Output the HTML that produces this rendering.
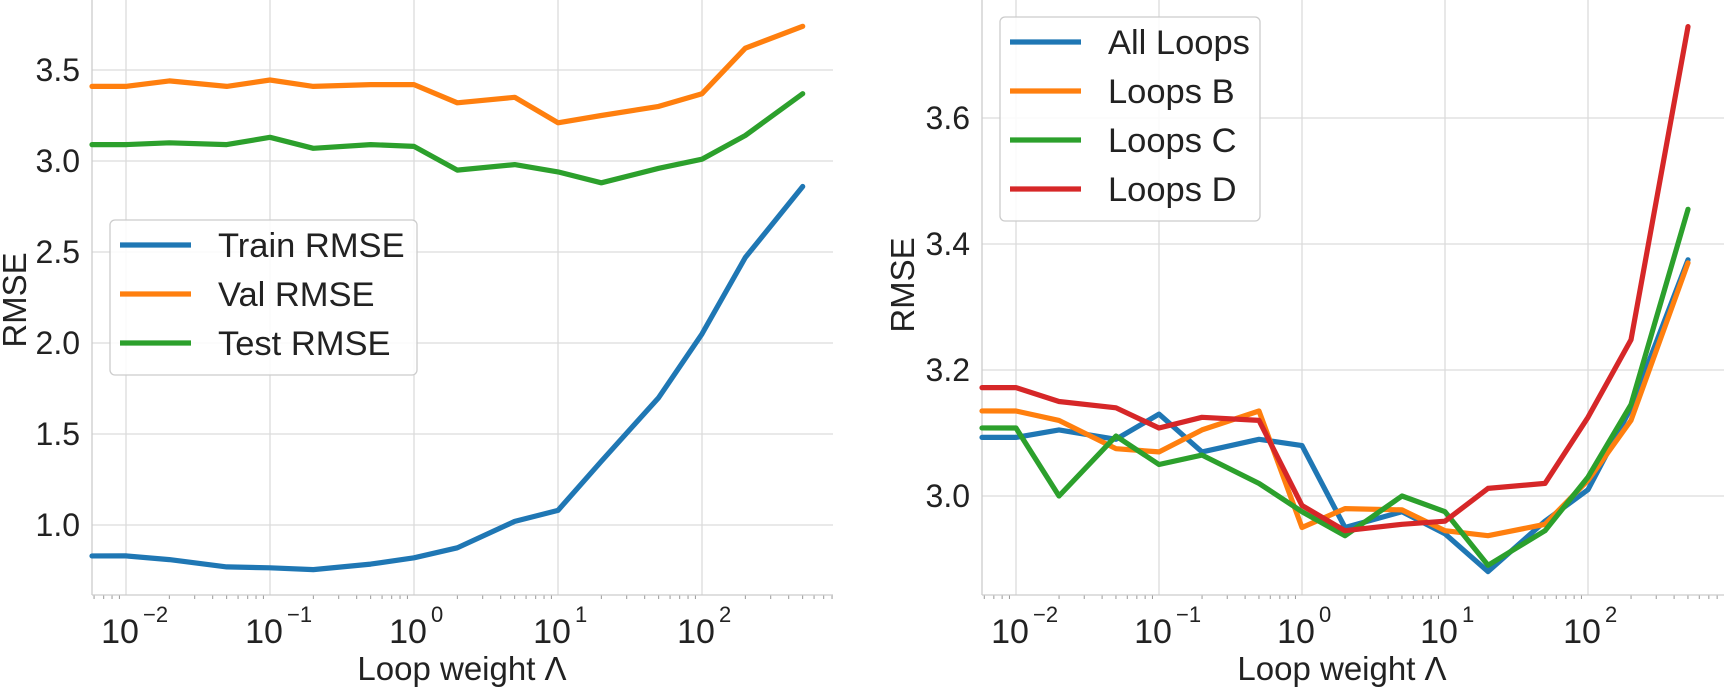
<!DOCTYPE html><html><head><style>body{margin:0;background:#fff}svg{display:block;font-family:"Liberation Sans",sans-serif}</style></head><body>
<svg id="s" width="1724" height="690" xmlns="http://www.w3.org/2000/svg"></svg>
<script>
const s=document.getElementById('s');let h='';
const xs=[0.01,0.02,0.05,0.1,0.2,0.5,1,2,5,10,20,50,100,200,500];
function axes(o){
 const X=v=>o.x0+(Math.log10(v)+2)*o.dec, Y=v=>o.yref+(o.vref-v)*o.ppu;
 for(let e=-2;e<=2;e++){const x=X(Math.pow(10,e));h+=`<line x1="${x}" y1="0" x2="${x}" y2="${o.bot}" stroke="#dcdcdc" stroke-width="1.3"/>`;
  h+=`<text x="${x-6}" y="${o.bot+48}" font-size="34" text-anchor="middle" fill="#222">10</text><text x="${x+17}" y="${o.bot+27}" font-size="22" text-anchor="start" fill="#222">${e<0?'\u2212'+(-e):e}</text>`;}
 for(let e=-3;e<=2;e++)for(let m=2;m<10;m++){const x=X(m*Math.pow(10,e));if(x>o.l&&x<o.r)h+=`<line x1="${x}" y1="${o.bot}" x2="${x}" y2="${o.bot+4}" stroke="#999" stroke-width="1"/>`;}
 o.yt.forEach(v=>{const y=Y(v);h+=`<line x1="${o.l}" y1="${y}" x2="${o.r}" y2="${y}" stroke="#dcdcdc" stroke-width="1.3"/><text x="${o.l-12}" y="${y+11}" font-size="32" text-anchor="end" fill="#222">${v.toFixed(1)}</text>`;});
 h+=`<line x1="${o.l}" y1="0" x2="${o.l}" y2="${o.bot}" stroke="#ccc" stroke-width="1.3"/><line x1="${o.l}" y1="${o.bot}" x2="${o.r}" y2="${o.bot}" stroke="#ccc" stroke-width="1.3"/>`;
 o.ser.forEach(([c,d])=>{let p=`M${o.l},${Y(d[0])}`;d.forEach((v,i)=>p+=` L${X(xs[i]).toFixed(1)},${Y(v).toFixed(1)}`);h+=`<path d="${p}" fill="none" stroke="${c}" stroke-width="5.2" stroke-linejoin="round" stroke-linecap="round"/>`;});
 h+=`<text x="${o.xl}" y="680" font-size="33" text-anchor="middle" fill="#222">Loop weight Λ</text>`;
 h+=`<text transform="translate(${o.yl},${o.ylY}) rotate(-90)" font-size="33" text-anchor="middle" fill="#222">RMSE</text>`;
}
const B='#1f77b4',O='#ff7f0e',G='#2ca02c',R='#d62728';
axes({x0:126,dec:144,l:92,r:833,bot:595,yref:525,vref:1.0,ppu:182,yt:[1.0,1.5,2.0,2.5,3.0,3.5],xl:462,yl:26,ylY:300,ser:[
[B,[0.83,0.81,0.77,0.765,0.755,0.785,0.82,0.875,1.02,1.08,1.35,1.70,2.05,2.47,2.86]],
[O,[3.41,3.44,3.41,3.445,3.41,3.42,3.42,3.32,3.35,3.21,3.25,3.30,3.37,3.62,3.74]],
[G,[3.09,3.10,3.09,3.13,3.07,3.09,3.08,2.95,2.98,2.94,2.88,2.96,3.01,3.14,3.37]]]});
axes({x0:1016,dec:143,l:982,r:1724,bot:595,yref:496,vref:3.0,ppu:630,yt:[3.0,3.2,3.4,3.6],xl:1342,yl:914,ylY:285,ser:[
[B,[3.093,3.105,3.09,3.13,3.07,3.09,3.08,2.95,2.975,2.94,2.88,2.96,3.01,3.14,3.375]],
[O,[3.135,3.12,3.075,3.07,3.105,3.135,2.95,2.98,2.978,2.945,2.937,2.955,3.025,3.12,3.37]],
[G,[3.108,3.0,3.095,3.05,3.065,3.02,2.975,2.937,3.0,2.975,2.89,2.945,3.03,3.145,3.455]],
[R,[3.172,3.15,3.14,3.108,3.125,3.12,2.985,2.945,2.955,2.96,3.012,3.02,3.125,3.248,3.745]]]});
function leg(x,y,w,hh,items){h+=`<rect x="${x}" y="${y}" width="${w}" height="${hh}" rx="5" fill="#fff" fill-opacity="0.85" stroke="#ccc" stroke-width="1.3"/>`;
 items.forEach(([c,t],i)=>{const yy=y+25+i*49;h+=`<line x1="${x+10}" y1="${yy}" x2="${x+81}" y2="${yy}" stroke="${c}" stroke-width="5.2"/><text x="${x+108}" y="${yy+12}" font-size="34.5" fill="#222">${t}</text>`;});}
leg(110,220,307,155,[[B,'Train RMSE'],[O,'Val RMSE'],[G,'Test RMSE']]);
leg(1000,17,260,204,[[B,'All Loops'],[O,'Loops B'],[G,'Loops C'],[R,'Loops D']]);
s.innerHTML=h;
</script></body></html>
